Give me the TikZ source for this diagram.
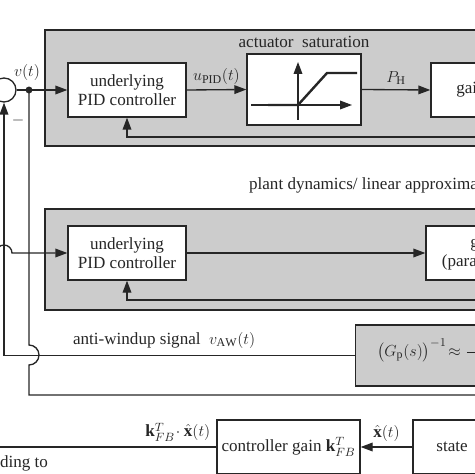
\documentclass[tikz,border=0pt]{standalone}
\usepackage{amsmath}
\usepackage{fontspec}
\setmainfont{Liberation Serif}
\usetikzlibrary{arrows.meta}
\tikzset{
	block/.style={draw,fill=white,align=center,minimum width=88.5pt,minimum height=40.5pt,inner sep=2pt},
	area/.style={draw,fill=black!20},
	sig/.style={->},
}
\begin{document}
\begin{tikzpicture}[x=0.75pt,y=-0.75pt,font=\fontsize{12.8}{14.6}\selectfont,color=black!85,line width=1pt,
	>={Triangle[length=9pt,width=6.5pt]}]
	\useasboundingbox (0,0) rectangle (474,474);
	\draw[area] (45,30) rectangle (490,146);
	\draw[area] (45,209) rectangle (490,310);
	% top loop
	\node[draw,circle,minimum size=18pt,inner sep=0pt] (sum) at (4,90) {};
	\coordinate (split) at (29,90);
	\node[block] (pid1) at (127,90) {underlying\\PID controller};
	\node[block,minimum width=85.5pt,minimum height=53.25pt] (sat) at (304,89.5) {};
	\node[block,minimum width=60pt] (gain1) at (471,90) {gain};
	\node (satlbl) at (304,42) {actuator\ \ saturation};
	\draw[->] (298,120) -- (298,62);
	\draw[->] (251,105) -- (352,105);
	\draw[line width=1.8pt] (268,105) -- (298,105) -- (327,73) -- (357,73);
	\draw[sig] (sum.east) -- (split) -- (pid1.west);
	\fill (split) circle (2.6pt);
	\node at (27,73) {$v(t)$};
	\node at (18,121) {$-$};
	\draw[sig] (pid1.east) -- node[above] {$u_{\mathrm{PID}}(t)$} (sat.west);
	\draw[sig] (sat.east) -- node[above] {$P_{\mathrm{H}}$} (gain1.west);
	\coordinate (fb1) at (490,137);
	\draw[sig] (fb1) -| (pid1.south);
	% plant model
	\node[anchor=west] (plantlbl) at (244,185) {plant dynamics/ linear approximation};
	\node[block] (pid2) at (127,253) {underlying\\PID controller};
	\node[block] (gain2) at (485,253) {gain\\(parameters)};
	\coordinate (in2) at (-10,253);
	\draw[sig] (in2) -- (-4,253) arc[start angle=180,end angle=0,radius=6pt] -- (pid2.west);
	\draw[sig] (pid2.east) -- (gain2.west);
	\coordinate (fb2) at (490,300);
	\draw[sig] (fb2) -| (pid2.south);
	% anti-windup
	\node[area,anchor=west,minimum height=45.75pt,inner xsep=16pt] (aw) at (355,355.5)
		{$\bigl(G_{\mathrm p}(s)\bigr)^{-1}\!\approx\dfrac{\hspace*{56pt}}{N_{\mathrm p}(s)}$};
	\node[anchor=west] (awlbl) at (68,340) {anti-windup signal\ \ $v_{\mathrm{AW}}(t)$};
	\draw[sig] (aw.west) -| (sum.south);
	\coordinate (out) at (490,395);
	\draw (split) -- (29,345) arc[start angle=90,end angle=-90,radius=7.5pt] -- (29,395) -- (out);
	% state feedback
	\node[block,minimum width=107.25pt] (cgain) at (288.5,447) {controller gain $\mathbf{k}_{FB}^T$};
	\node[block,minimum width=58.5pt] (state) at (452,447) {state};
	\draw[sig] (state.west) -- node[above] {$\hat{\mathbf{x}}(t)$} (cgain.east);
	\coordinate (fbk) at (-10,447);
	\draw (cgain.west) -- node[above,pos=0.17] {$\mathbf{k}_{FB}^T\!\cdot\hat{\mathbf{x}}(t)$} (fbk);
	\node[anchor=east] (acc) at (53,463) {according to};
\end{tikzpicture}
\end{document}
